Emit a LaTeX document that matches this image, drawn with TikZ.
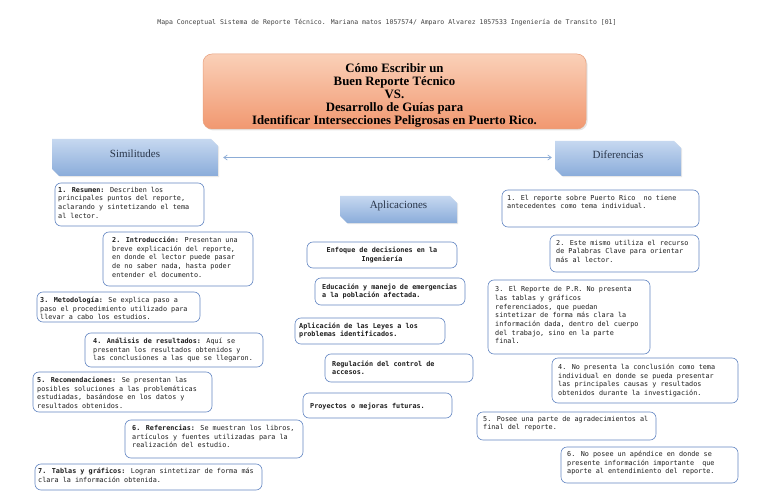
\documentclass[tikz,border=0pt]{standalone}
\usepackage{fontspec}
\setmainfont{Liberation Serif}
\newfontfamily\mono{DejaVu Sans Mono}
\usetikzlibrary{fit,arrows.meta,shadows,backgrounds}
\definecolor{bordb}{RGB}{100,135,195}
\definecolor{lineb}{RGB}{140,172,214}
\definecolor{hdtop}{RGB}{198,216,240}
\definecolor{hdbot}{RGB}{138,172,218}
\definecolor{ttop}{RGB}{250,208,184}
\definecolor{tbot}{RGB}{241,152,112}
\definecolor{tbord}{RGB}{232,160,125}
\definecolor{hdtext}{RGB}{40,52,72}
\definecolor{bodytext}{RGB}{30,30,30}
\newcommand{\cbox}[8]{%
  \node[cb, fit={(#2,#3) (#4,#5)}] (#1) {};
  \node[tx] (#1-t) at (#6,#3+#7) {#8};
}
\newcommand{\hdbox}[6]{%
  \path[hdshape] (#2,#3) -- (#4-7,#3) -- (#4,#3+7) -- (#4,#5) -- (#2+7,#5) -- (#2,#5-7) -- cycle;
  \node[hdn, fit={(#2,#3) (#4,#5)}] (#1) {#6};
}
\begin{document}
\begin{tikzpicture}[x=1pt,y=-1pt,
  cb/.style={draw=bordb, line width=0.6pt, rounded corners=6pt, fill=white, inner sep=0pt},
  tx/.style={font=\mono\fontsize{6.8}{8.7}\selectfont, text=bodytext, align=left, inner sep=0pt, anchor=north west},
  hdshape/.style={top color=hdtop, bottom color=hdbot, draw=none,
    drop shadow={opacity=0.18, shadow xshift=1.2pt, shadow yshift=-1.2pt}},
  hdn/.style={inner sep=0pt, font=\fontsize{11}{13}\selectfont, text=hdtext},
  conn/.style={draw=lineb, line width=0.8pt},
  arr/.style={draw=lineb, line width=0.7pt, {Straight Barb[length=3.5pt,width=5pt]}-{Straight Barb[length=3.5pt,width=5pt]}}]
\useasboundingbox (0,0) rectangle (768,497);
\fill[white] (0,0) rectangle (768,497);

% header line
\node[font=\mono\fontsize{6.5}{8}\selectfont, text=black!75, inner sep=0pt] (hdr) at (387,23)
 {Mapa Conceptual Sistema de Reporte Técnico. Mariana matos 1057574/ Amparo Alvarez 1057533 Ingeniería de Transito [01]};

% title
\node[fit={(203,54) (586,129)}, inner sep=0pt, rounded corners=9pt, top color=ttop, bottom color=tbot,
  draw=tbord, line width=0.5pt, drop shadow={opacity=0.2, shadow xshift=1.5pt, shadow yshift=-1.5pt}] (title) {};
\node[align=center, inner sep=0pt, font=\bfseries\fontsize{12.8}{13.2}\selectfont] (title-t)
  at ([yshift=-4pt]title.center)
 {Cómo Escribir un\\Buen Reporte Técnico\\VS.\\Desarrollo de Guías para\\Identificar Intersecciones Peligrosas en Puerto Rico.};

% headers
\hdbox{sim}{52}{139}{218}{176}{Similitudes}
\hdbox{dif}{555}{141}{681}{176}{Diferencias}
\hdbox{apl}{340}{196}{457}{223}{Aplicaciones}

% left column
\cbox{l1}{55}{183}{204}{226}{58}{3.8}{\textbf{1. Resumen:} Describen los\\principales puntos del reporte,\\aclarando y sintetizando el tema\\al lector.}
\cbox{l2}{103}{232}{253}{286}{112}{4.7}{\textbf{2. Introducción:} Presentan una\\breve explicación del reporte,\\en donde el lector puede pasar\\de no saber nada, hasta poder\\entender el documento.}
\cbox{l3}{37}{292}{200}{322}{40}{4.7}{\textbf{3. Metodología:} Se explica paso a\\paso el procedimiento utilizado para\\llevar a cabo los estudios.}
\cbox{l4}{85}{333}{263}{367}{93}{4.7}{\textbf{4. Análisis de resultados:} Aquí se\\presentan los resultados obtenidos y\\las conclusiones a las que se llegaron.}
\cbox{l5}{33}{372}{212}{412}{37}{4.7}{\textbf{5. Recomendaciones:} Se presentan las\\posibles soluciones a las problemáticas\\estudiadas, basándose en los datos y\\resultados obtenidos.}
\cbox{l6}{125}{420}{303}{458}{132}{4.7}{\textbf{6. Referencias:} Se muestran los libros,\\artículos y fuentes utilizadas para la\\realización del estudio.}
\cbox{l7}{35}{464}{262}{490}{38}{3.8}{\textbf{7. Tablas y gráficos:} Logran sintetizar de forma más\\clara la información obtenida.}

% middle column
\node[cb, fit={(307,242) (457,268)}] (m1) {};
\node[tx, anchor=center, align=center, font=\mono\bfseries\fontsize{6.8}{8.7}\selectfont] (m1-t) at (m1.center) {Enfoque de decisiones en la\\Ingeniería};
\begin{scope}[tx/.append style={font=\mono\bfseries\fontsize{6.8}{8.7}\selectfont}]
\cbox{m2}{315}{278}{465}{305}{322}{5.5}{Educación y manejo de emergencias\\a la población afectada.}
\cbox{m3}{295}{318}{445}{344}{299}{4.5}{Aplicación de las Leyes a los\\problemas identificados.}
\cbox{m4}{325}{354}{473}{382}{332}{6.5}{Regulación del control de\\accesos.}
\cbox{m5}{303}{393}{452}{418}{310}{10}{Proyectos o mejoras futuras.}
\end{scope}

% right column
\cbox{r1}{502}{190}{699}{227}{507}{4.7}{1. El reporte sobre Puerto Rico~ no tiene\\antecedentes como tema individual.}
\cbox{r2}{550}{235}{699}{272}{556}{4.7}{2. Este mismo utiliza el recurso\\de Palabras Clave para orientar\\más al lector.}
\cbox{r3}{488}{280}{650}{354}{495}{6.2}{3. El Reporte de P.R. No presenta\\las tablas y gráficos\\referenciados, que puedan\\sintetizar de forma más clara la\\información dada, dentro del cuerpo\\del trabajo, sino en la parte\\final.}
\cbox{r4}{552}{358}{738}{403}{558}{5.7}{4. No presenta la conclusión como tema\\individual en donde se pueda presentar\\las principales causas y resultados\\obtenidos durante la investigación.}
\cbox{r5}{477}{412}{656}{440}{483}{3.8}{5. Posee una parte de agradecimientos al\\final del reporte.}
\cbox{r6}{561}{447}{738}{483}{567}{3.8}{6. No posee un apéndice en donde se\\presente información importante~ que\\aporte al entendimiento del reporte.}

% connectors
\begin{scope}[on background layer]
\draw[conn] ([xshift=1pt]title.south) -- ([xshift=1pt]title.south |- apl.north);
\draw[conn] ([xshift=1pt]title.south |- apl.south) -- ([xshift=1pt]title.south |- m5.north);
\draw[conn] ([xshift=-3pt]sim.south) -- ([xshift=-3pt]sim.south |- l1.north);
\draw[conn] ([xshift=-6pt]dif.south) -- ([xshift=-6pt]dif.south |- r1.north);
\end{scope}
\draw[arr] ([xshift=5pt]sim.east) -- ([xshift=-3pt]sim.east -| dif.west);
\end{tikzpicture}
\end{document}
